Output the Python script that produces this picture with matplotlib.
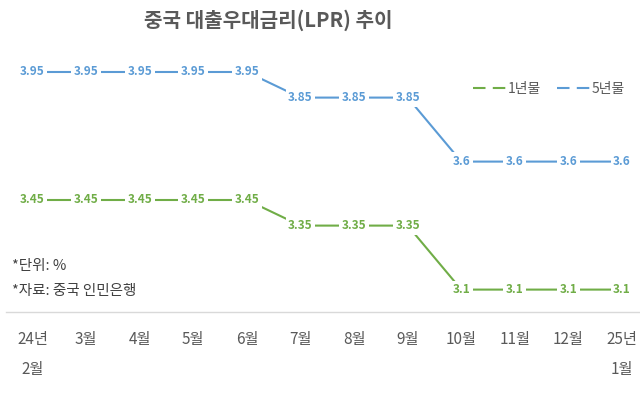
import matplotlib
matplotlib.use("Agg")
import matplotlib.pyplot as plt
from matplotlib.lines import Line2D

plt.rcParams['font.family'] = ['Noto Sans CJK KR', 'DejaVu Sans']

months = ['24년\n2월', '3월', '4월', '5월', '6월', '7월', '8월', '9월',
          '10월', '11월', '12월', '25년\n1월']
lpr_5y = [3.95, 3.95, 3.95, 3.95, 3.95, 3.85, 3.85, 3.85, 3.6, 3.6, 3.6, 3.6]
lpr_1y = [3.45, 3.45, 3.45, 3.45, 3.45, 3.35, 3.35, 3.35, 3.1, 3.1, 3.1, 3.1]

blue = '#5B9BD5'
green = '#70AD47'
gray = '#595959'

fig = plt.figure(figsize=(6.4, 3.97), dpi=100)
ax = fig.add_axes([0.0089, 0.2141, 1.005, 0.6368])

x = list(range(len(months)))
ax.plot(x, lpr_5y, color=blue, lw=1.5, zorder=2)
ax.plot(x, lpr_1y, color=green, lw=1.5, zorder=2)

# 값 라벨 (흰 배경으로 선 위에 얹음)
for series, col in [(lpr_5y, blue), (lpr_1y, green)]:
    for i, v in enumerate(series):
        ax.text(i, v, f'{v:g}', ha='center', va='center', fontsize=8.5,
                fontweight='bold', color=col, zorder=3, clip_on=False,
                bbox=dict(boxstyle='square,pad=0.22', fc='white', ec='none'))

ax.set_xlim(-0.5, 11.5)
ax.set_ylim(3.0125, 4.0)
ax.set_xticks(x)
ax.set_xticklabels(months, fontsize=11, color=gray, linespacing=2.0)
ax.tick_params(axis='x', length=0, pad=14)
ax.set_yticks([])
for s in ['top', 'right', 'left']:
    ax.spines[s].set_visible(False)
ax.spines['bottom'].set_color('#D9D9D9')
ax.spines['bottom'].set_linewidth(1)

fig.text(268 / 640, 1 - 20 / 397, '중국 대출우대금리(LPR) 추이', ha='center',
         va='center', fontsize=14.5, fontweight='bold', color=gray)

fig.text(12 / 640, 1 - 266 / 397, '*단위: %', va='center', fontsize=10.5, color='#404040')
fig.text(12 / 640, 1 - 291 / 397, '*자료: 중국 인민은행', va='center', fontsize=10.5, color='#404040')

handles = [Line2D([], [], color=green, lw=1.5, dashes=(6, 3.5)),
           Line2D([], [], color=blue, lw=1.5, dashes=(6, 3.5))]
fig.legend(handles, ['1년물', '5년물'], loc='center', bbox_to_anchor=(549 / 640, 1 - 89 / 397),
           ncol=2, frameon=False, fontsize=10, labelcolor=gray, handlelength=2.4,
           handletextpad=0.1, columnspacing=1.2)

fig.savefig('out.png', dpi=100)
